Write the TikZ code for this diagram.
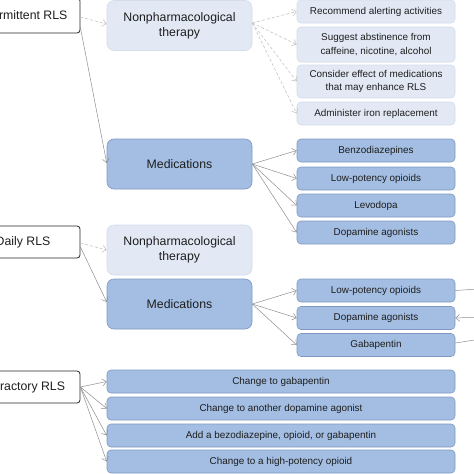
\documentclass[tikz,border=0pt]{standalone}
\usepackage{fontspec}
\setmainfont{Liberation Sans}
\usetikzlibrary{arrows.meta,calc}
\definecolor{lightfill}{HTML}{E2E9F5}
\definecolor{lightborder}{HTML}{D3DDEC}
\definecolor{medfill}{HTML}{A3BEE2}
\definecolor{medborder}{HTML}{7F99C0}
\definecolor{txt}{HTML}{1E1E1E}
\definecolor{solidline}{HTML}{8E8E8E}
\definecolor{dashline}{HTML}{C4C4C4}
\tikzset{
  big/.style={font=\fontsize{12.3}{15}\selectfont, text=txt, align=center, inner sep=0pt},
  small/.style={font=\fontsize{9.9}{13.5}\selectfont, text=txt, align=center, inner sep=0pt},
  srcbox/.style={big, draw=black!85, fill=white, line width=0.8pt, rounded corners=3pt, minimum width=114pt, minimum height=32pt},
  lbig/.style={big, fill=lightfill, draw=lightborder, line width=0.6pt, rounded corners=7pt, minimum width=145pt, minimum height=50pt},
  mbig/.style={big, fill=medfill, draw=medborder, line width=0.6pt, rounded corners=7pt, minimum width=145pt, minimum height=50pt},
  lsmall/.style={small, fill=lightfill, draw=lightborder, line width=0.6pt, rounded corners=4pt, minimum width=158pt, minimum height=23pt},
  msmall/.style={small, fill=medfill, draw=medborder, line width=0.6pt, rounded corners=4pt, minimum width=158pt, minimum height=23pt},
  wsmall/.style={small, fill=medfill, draw=medborder, line width=0.6pt, rounded corners=4pt, minimum width=348pt, minimum height=23pt},
  conn/.style={draw=solidline, line width=0.5pt, -{Straight Barb[length=4pt,width=7pt]}},
  plainconn/.style={draw=solidline, line width=0.5pt},
  dconn/.style={draw=dashline, line width=0.6pt, dash pattern=on 3pt off 2pt, -{Straight Barb[length=4pt,width=7pt]}},
}
\begin{document}
\begin{tikzpicture}[x=1pt,y=-1pt]
\useasboundingbox (0,0) rectangle (474,474);
\clip (0,0) rectangle (474,474);
% source boxes
\node[srcbox, minimum height=35pt] (int) at (23,15.5) {Intermittent RLS};
\node[srcbox] (daily) at (23,242) {Daily RLS};
\node[srcbox] (refr) at (23,387) {Refractory RLS};
% second column
\node[lbig] (np1) at (179.5,25.5) {Nonpharmacological\\therapy};
\node[mbig] (med1) at (179.5,164) {Medications};
\node[lbig] (np2) at (179.5,250) {Nonpharmacological\\therapy};
\node[mbig] (med2) at (179.5,304) {Medications};
% nonpharm items
\node[lsmall] (r1) at (376,11.5) {Recommend alerting activities};
\node[lsmall, minimum height=35pt] (r2) at (376,44.5) {Suggest abstinence from\\caffeine, nicotine, alcohol};
\node[lsmall, minimum height=33pt] (r3) at (376,81.5) {Consider effect of medications\\that may enhance RLS};
\node[lsmall] (r4) at (376,113.5) {Administer iron replacement};
% medications 1
\node[msmall] (m1) at (376,150.5) {Benzodiazepines};
\node[msmall] (m2) at (376,178.5) {Low-potency opioids};
\node[msmall] (m3) at (376,205.5) {Levodopa};
\node[msmall] (m4) at (376,232.5) {Dopamine agonists};
% medications 2
\node[msmall] (d1) at (376,290.5) {Low-potency opioids};
\node[msmall] (d2) at (376,318) {Dopamine agonists};
\node[msmall] (d3) at (376,345) {Gabapentin};
% refractory
\node[wsmall] (f1) at (281,381.5) {Change to gabapentin};
\node[wsmall] (f2) at (281,408.5) {Change to another dopamine agonist};
\node[wsmall] (f3) at (281,435.5) {Add a bezodiazepine, opioid, or gabapentin};
\node[wsmall] (f4) at (281,461.5) {Change to a high-potency opioid};
% off-canvas ends
\coordinate (o1) at (494,288);
\coordinate (o2) at (494,316.5);
\coordinate (o3) at (494,337);
% connectors
\draw[dconn] ($(int.east)+(0,1.5)$) -- ($(np1.west)+(0,-1.5)$);
\draw[conn] ($(int.east)+(0,12)$) -- ($(med1.west)+(0,-1)$);
\foreach \t in {r1,r2,r3,r4} \draw[dconn] ($(np1.east)+(0,-2.5)$) -- (\t.west);
\foreach \t in {m1,m2,m3,m4} \draw[conn] (med1.east) -- (\t.west);
\draw[dconn] ($(daily.east)+(0,1)$) -- (np2.west);
\draw[conn] ($(daily.east)+(0,5)$) -- ($(med2.west)+(0,-2)$);
\foreach \t in {d1,d2,d3} \draw[conn] (med2.east) -- (\t.west);
\foreach \t in {f1,f2,f3,f4} \draw[conn] (refr.east) -- (\t.west);
\draw[plainconn] (d1.east) -- (o1);
\draw[conn] (o2) -- (d2.east);
\draw[plainconn] ($(d3.east)+(0,-2)$) -- (o3);
\end{tikzpicture}
\end{document}
